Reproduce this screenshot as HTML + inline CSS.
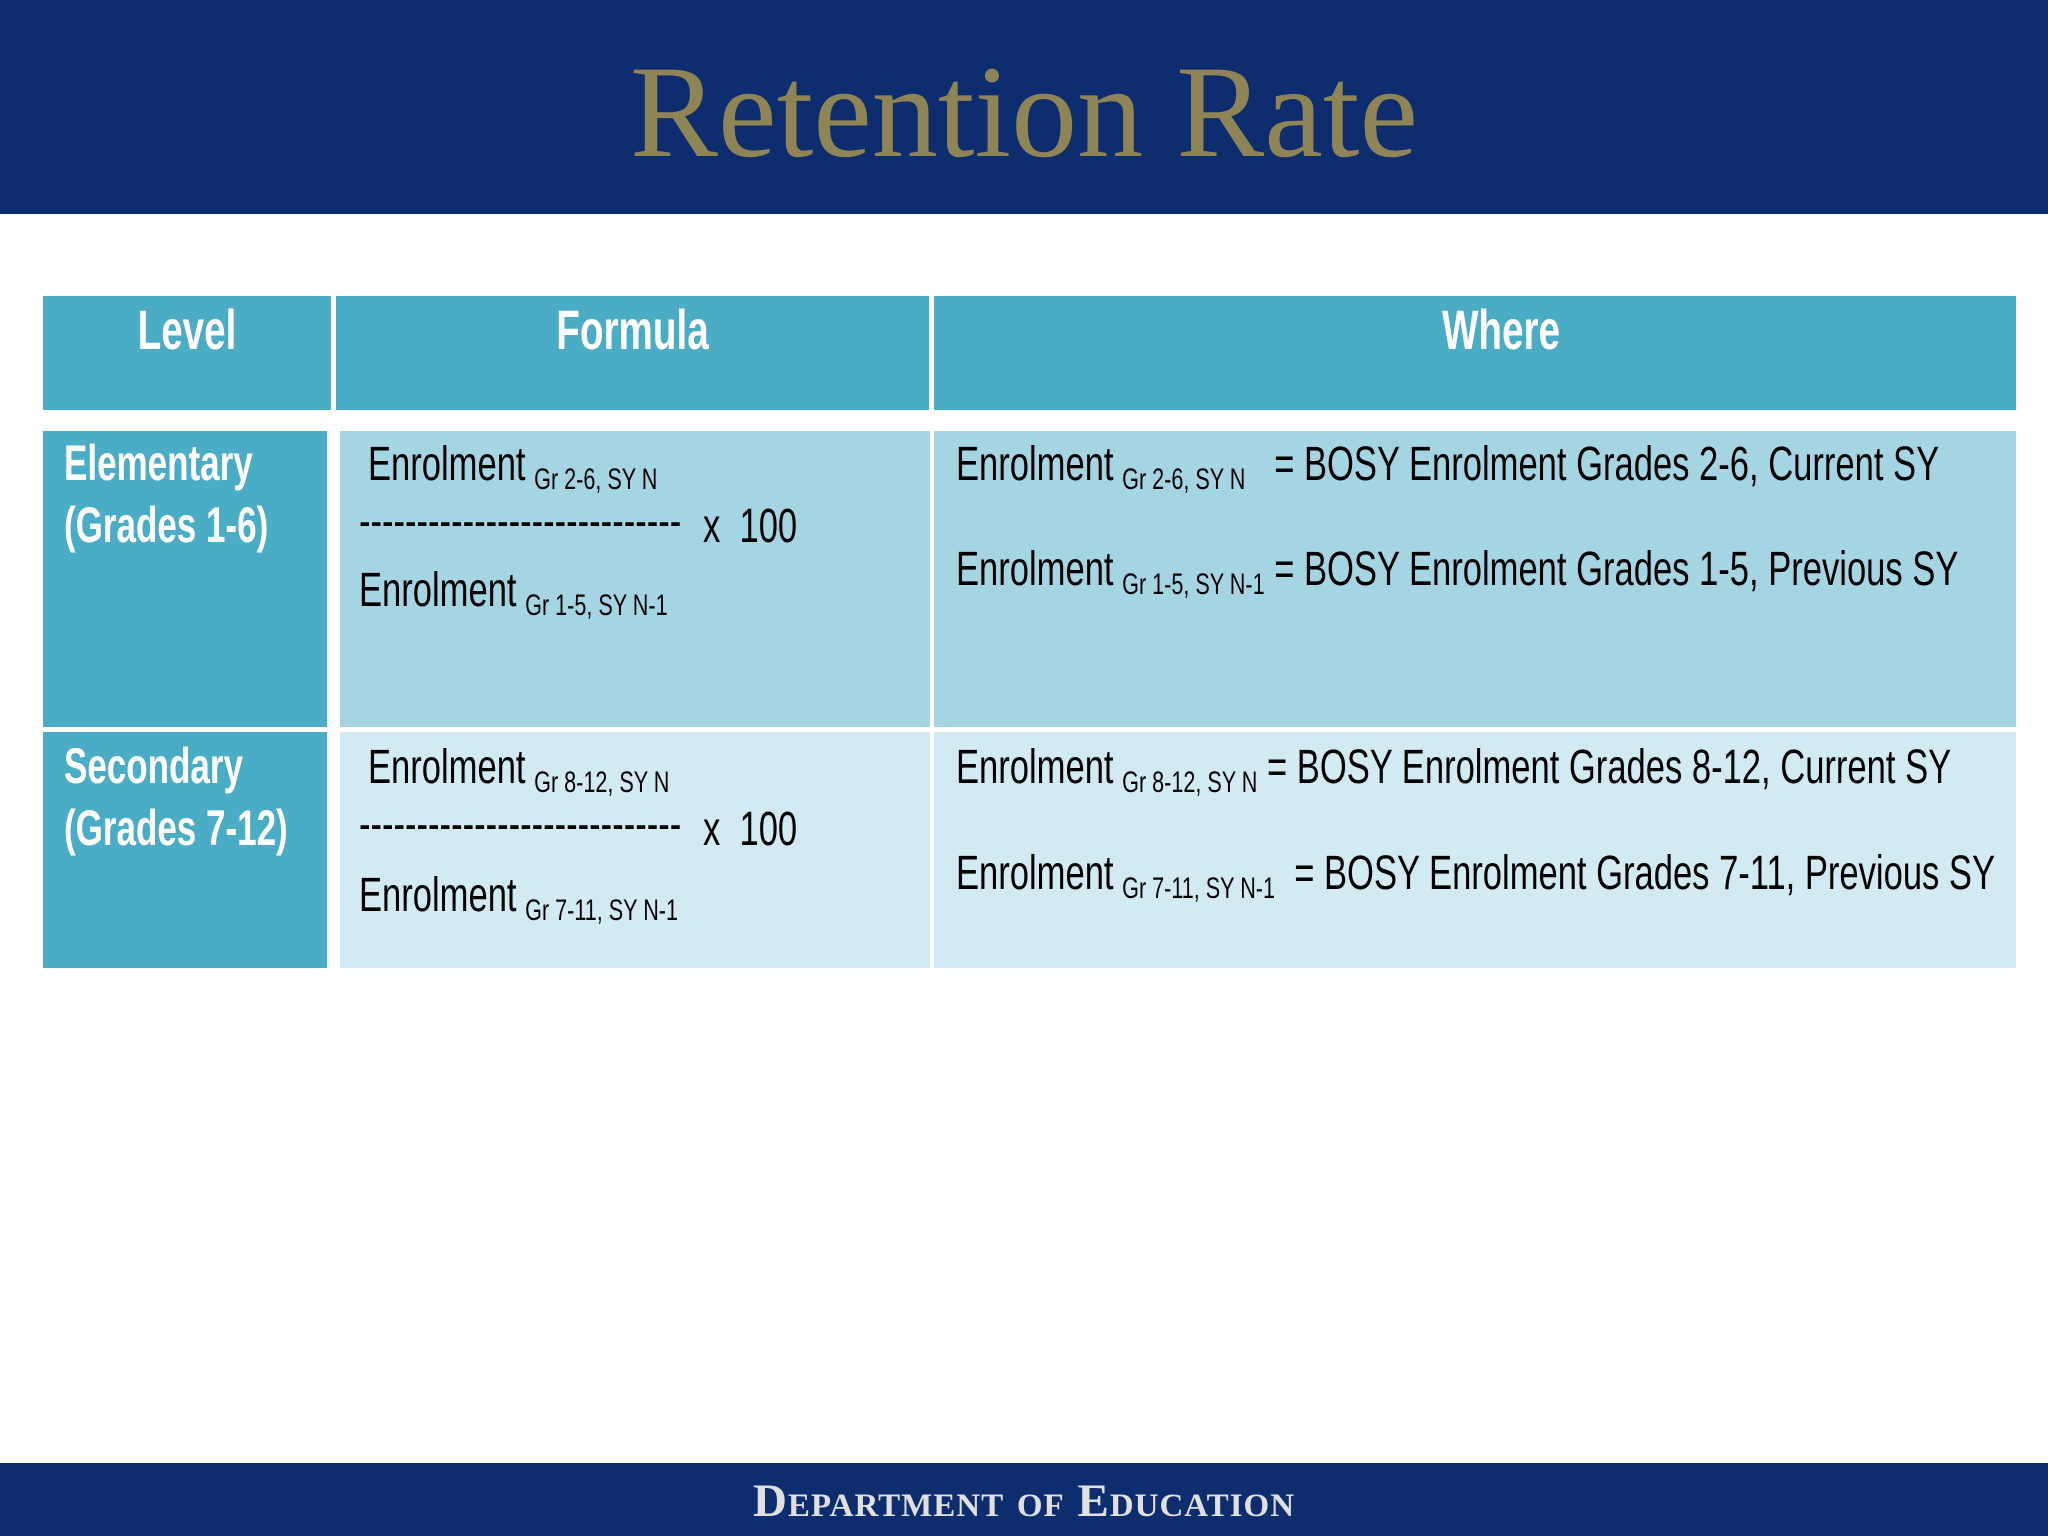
<!DOCTYPE html>
<html><head><meta charset="utf-8"><style>
body{margin:0;width:2048px;height:1536px;position:relative;background:#fff;overflow:hidden;font-family:"Liberation Sans",sans-serif}
div,span{position:absolute;white-space:nowrap}
.t{font-size:48px;color:#000;line-height:1;transform:scaleX(0.72);transform-origin:0 0}
.t sub{font-size:30px;vertical-align:-9px;margin-left:12px}
.h{color:#fff;font-weight:bold;font-size:56px;text-align:center;line-height:1;transform:scaleX(0.69);transform-origin:50% 0}
.l{color:#fff;font-weight:bold;font-size:50px;line-height:1;transform:scaleX(0.70);transform-origin:0 0}
</style></head><body>
<div style="left:0;top:0;width:2048px;height:214px;background:#0e2d6e"></div>
<div style="left:0;top:46px;width:2048px;text-align:center;font-family:'Liberation Serif',serif;font-size:132px;color:#8f8455;line-height:1">Retention Rate</div>

<div style="left:43px;top:296px;width:288px;height:114px;background:#4bacc6"></div>
<div style="left:336px;top:296px;width:593px;height:114px;background:#4bacc6"></div>
<div style="left:934px;top:296px;width:1082px;height:114px;background:#4bacc6"></div>
<div class="h" style="left:43px;top:302px;width:288px">Level</div>
<div class="h" style="left:336px;top:302px;width:593px">Formula</div>
<div class="h" style="left:934px;top:302px;width:1134px">Where</div>

<div style="left:43px;top:431px;width:284px;height:296px;background:#4bacc6"></div>
<div style="left:340px;top:431px;width:590px;height:296px;background:#a5d5e3"></div>
<div style="left:934px;top:431px;width:1082px;height:296px;background:#a5d5e3"></div>
<div style="left:43px;top:732px;width:284px;height:236px;background:#4bacc6"></div>
<div style="left:340px;top:732px;width:590px;height:236px;background:#d2eaf1"></div>
<div style="left:934px;top:732px;width:1082px;height:236px;background:#d2eaf1"></div>

<div class="l" style="left:64px;top:432px;line-height:62px">Elementary<br>(Grades 1-6)</div>
<div class="l" style="left:64px;top:735px;line-height:62px">Secondary<br>(Grades 7-12)</div>

<div class="t" style="left:368px;top:441px">Enrolment<sub>Gr 2-6, SY N</sub></div>
<div class="t" style="left:359px;top:498px">----------------------------</div>
<div class="t" style="left:703px;top:503px">x&nbsp; 100</div>
<div class="t" style="left:359px;top:567px">Enrolment<sub>Gr 1-5, SY N-1</sub></div>
<div class="t" style="left:956px;top:441px">Enrolment<sub>Gr 2-6, SY N</sub>&nbsp;&nbsp; = BOSY Enrolment Grades 2-6, Current SY</div>
<div class="t" style="left:956px;top:546px">Enrolment<sub>Gr 1-5, SY N-1</sub> = BOSY Enrolment Grades 1-5, Previous SY</div>

<div class="t" style="left:368px;top:744px">Enrolment<sub>Gr 8-12, SY N</sub></div>
<div class="t" style="left:359px;top:801px">----------------------------</div>
<div class="t" style="left:703px;top:806px">x&nbsp; 100</div>
<div class="t" style="left:359px;top:872px">Enrolment<sub>Gr 7-11, SY N-1</sub></div>
<div class="t" style="left:956px;top:744px">Enrolment<sub>Gr 8-12, SY N</sub> = BOSY Enrolment Grades 8-12, Current SY</div>
<div class="t" style="left:956px;top:850px">Enrolment<sub>Gr 7-11, SY N-1</sub>&nbsp; = BOSY Enrolment Grades 7-11, Previous SY</div>

<div style="left:0;top:1463px;width:2048px;height:73px;background:#0e2d6e"></div>
<div style="left:0;top:1478px;width:2048px;text-align:center;font-family:'Liberation Serif',serif;font-variant:small-caps;font-weight:bold;font-size:47px;color:#e0e0e0;line-height:1;letter-spacing:1px">Department of Education</div>
</body></html>
